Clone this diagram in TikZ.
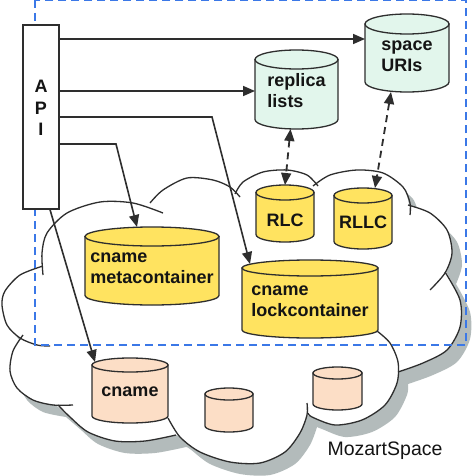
\documentclass[tikz,border=0pt]{standalone}
\usepackage{fontspec}
\setmainfont{Liberation Sans}
\usetikzlibrary{arrows.meta}
\definecolor{mint}{HTML}{E2F6EC}
\definecolor{cylyellow}{HTML}{FFE360}
\definecolor{peach}{HTML}{FCDEC6}
\definecolor{outline}{HTML}{2E2E2E}
\definecolor{textblack}{HTML}{141414}
\definecolor{shadowgray}{HTML}{B3BBBB}
\definecolor{dashblue}{HTML}{3B78E7}
\newcommand\drawcyl[9]{%
  \pgfmathsetmacro\cylcx{(#2+#4)/2}%
  \pgfmathsetmacro\cylrx{(#4-#2)/2}%
  \pgfmathsetmacro\cylcy{(#3+#5)/2}%
  \pgfmathsetmacro\cylw{#4-#2}%
  \pgfmathsetmacro\cylh{#5-#3}%
  \pgfmathsetmacro\cylk{0.5523*\cylrx}%
  \pgfmathsetmacro\cylkr{0.5523*#6}%
  \pgfmathsetmacro\cylyb{#5-#6}%
  \pgfmathsetmacro\cylyt{#3+#6}%
  \filldraw[cylline, fill=#7] (#2,\cylyt) -- (#2,\cylyb) .. controls (#2,\cylyb+\cylkr) and (\cylcx-\cylk,#5) .. (\cylcx,#5) .. controls (\cylcx+\cylk,#5) and (#4,\cylyb+\cylkr) .. (#4,\cylyb) -- (#4,\cylyt) -- cycle;
  \filldraw[cylline, fill=#7] (\cylcx,\cylyt) ellipse [x radius=\cylrx, y radius=#6];
  \node[cylbox, minimum width=\cylw pt, minimum height=\cylh pt] (#1) at (\cylcx,\cylcy) {};
  \node[cyltext] (#1t) at (\cylcx,\cylcy+#9) {#8};
}
\begin{document}
\begin{tikzpicture}[x=1pt,y=-1pt,
  cylline/.style={draw=outline, line width=1.3pt},
  cylbox/.style={inner sep=0pt, outer sep=0pt},
  cyltext/.style={font=\bfseries\fontsize{18}{21}\selectfont, align=left, inner sep=0pt, text=textblack},
  arr/.style={draw=outline, line width=1.6pt, -{Triangle[length=12pt,width=10pt]}},
  darr/.style={draw=outline, line width=1.8pt, dash pattern=on 7pt off 5pt, {Triangle[length=12pt,width=10pt]}-{Triangle[length=12pt,width=10pt]}},
  cloudline/.style={draw=outline, line width=1.3pt},
  spacebox/.style={draw=dashblue, line width=1.6pt, dash pattern=on 8pt off 5pt},
  apibox/.style={draw=outline, fill=white, line width=1.3pt, minimum width=36pt, minimum height=184pt, inner sep=0pt},
  apitext/.style={font=\bfseries\fontsize{18}{21.5}\selectfont, align=center, inner sep=0pt, text=textblack},
  labeltext/.style={font=\fontsize{19.5}{22}\selectfont, inner sep=0pt, text=textblack}
  ]
\useasboundingbox (0,0) rectangle (474,476);
\fill[white] (0,0) rectangle (474,476);

% cloud: shadow and white body
\foreach \dx/\dy/\col in {10/12/shadowgray, 0/0/white}{
\fill[\col, shift={(\dx,\dy)}]
  plot[smooth] coordinates {(42,268) (42,253) (47,233) (67,213) (100,202) (133,203) (151,204)}
  -- plot[smooth] coordinates {(151,204) (163,190) (187,178) (213,180) (230,187) (237,193)}
  -- plot[smooth] coordinates {(237,193) (243,182) (263,172) (287,170) (307,175) (315,186)}
  -- plot[smooth] coordinates {(315,186) (330,175) (357,170) (383,173) (403,187) (409,205)}
  -- plot[smooth] coordinates {(409,205) (430,213) (447,230) (452,253) (446,272)}
  -- plot[smooth] coordinates {(446,272) (460,300) (460,327) (447,350) (423,363) (398,372)}
  -- plot[smooth] coordinates {(398,372) (397,383) (385,405) (362,420) (335,425) (312,417) (307,415)}
  -- plot[smooth] coordinates {(307,415) (300,433) (285,452) (260,463) (230,462) (200,452) (180,437) (176,435)}
  -- plot[smooth] coordinates {(176,435) (145,441) (115,441) (88,432) (70,417) (56,405)}
  -- plot[smooth] coordinates {(56,405) (33,400) (17,388) (10,371) (13,351) (20,338)}
  -- plot[smooth] coordinates {(20,338) (7,325) (2,305) (5,291) (20,275) (42,268)}
  -- cycle;
}
% cloud outline bumps
\draw[cloudline] plot[smooth] coordinates {(43,275) (42,253) (47,233) (67,213) (100,202) (133,203) (163,213)};
\draw[cloudline] plot[smooth] coordinates {(150,203) (163,190) (187,178) (213,180) (230,187) (240,197)};
\draw[cloudline] plot[smooth] coordinates {(235,194) (243,182) (263,172) (287,170) (307,175) (318,186)};
\draw[cloudline] plot[smooth] coordinates {(313,186) (330,175) (357,170) (383,173) (403,187) (410,203) (410,215)};
\draw[cloudline] plot[smooth] coordinates {(408,205) (430,213) (447,230) (452,253) (445,273) (430,290)};
\draw[cloudline] plot[smooth] coordinates {(445,272) (460,300) (460,327) (447,350) (423,363) (398,372)};
\draw[cloudline] plot[smooth] coordinates {(377,331) (390,343) (398,362) (397,383) (385,405) (362,420) (335,425) (312,417) (308,413)};
\draw[cloudline] plot[smooth] coordinates {(168,418) (180,437) (200,452) (230,462) (260,463) (285,452) (300,433) (307,415) (307,403)};
\draw[cloudline] plot[smooth] coordinates {(58,405) (70,417) (88,432) (115,441) (145,441) (176,435)};
\draw[cloudline] plot[smooth] coordinates {(23,335) (13,351) (10,371) (17,388) (33,400) (53,405) (73,405)};
\draw[cloudline] plot[smooth] coordinates {(43,266) (20,275) (5,291) (2,305) (7,325) (20,338) (37,345) (50,346)};

% dashed space boundary
\draw[spacebox] (35,0) rectangle (466,345);

% cylinders
\drawcyl{uris}{365}{14}{449}{92}{10}{mint}{space\\URIs}{3}
\drawcyl{replica}{255}{50}{338}{129}{9.5}{mint}{replica\\lists}{1.5}
\drawcyl{rlc}{256}{185}{314}{242}{7.5}{cylyellow}{RLC}{7}
\drawcyl{rllc}{334}{188}{392}{249}{7.5}{cylyellow}{RLLC}{3.5}
\drawcyl{meta}{85}{227}{219}{305}{9.5}{cylyellow}{cname\\metacontainer}{2.4}
\drawcyl{lock}{242}{260}{378}{338}{8}{cylyellow}{cname\\lockcontainer}{2.4}
\drawcyl{cname}{92}{358}{168}{423}{7}{peach}{cname}{1}
\drawcyl{peachA}{205}{388}{253}{432}{6}{peach}{}{0}
\drawcyl{peachB}{313}{367}{362}{410}{6}{peach}{}{0}

\node[labeltext] (mozart) at (385,451) {MozartSpace};

% API box
\node[apibox] (api) at (41,117) {};
\node[apitext] (apilabel) at (41,108.3) {A\\P\\I};

% connectors
\coordinate (lockin) at (250,264);
\coordinate (cnamein) at (95,362);
\draw[arr] (api.east |- 0,39) -- (uris.west |- 0,39);
\draw[arr] (api.east |- 0,91) -- (replica.west |- 0,91);
\draw[arr] (api.east |- 0,117) -- (212,117) -- (lockin);
\draw[arr] (api.east |- 0,144) -- (116,144) -- ([xshift=-15pt]meta.north);
\draw[arr] ([xshift=9pt]api.south) -- (cnamein);
\draw[darr] ([xshift=-6pt]replica.south) -- (rlc.north);
\draw[darr] ([xshift=-16pt]uris.south) -- ([xshift=12pt]rllc.north);
\end{tikzpicture}
\end{document}
